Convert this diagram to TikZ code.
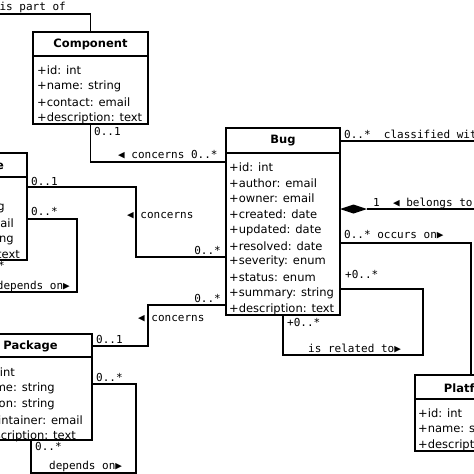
\documentclass[tikz,border=0pt]{standalone}
\usepackage{fontspec}
\setmainfont{DejaVu Sans}
\setmonofont{DejaVu Sans Mono}
\usetikzlibrary{calc}
\tikzset{
  ln/.style={line width=1.8pt, line join=miter},
  cls/.style={draw, line width=1.8pt, rectangle, inner sep=0pt, outer sep=0pt},
  attr/.style={font=\fontsize{11.5}{13}\selectfont, inner sep=0pt, anchor=west},
  attre/.style={font=\fontsize{11.5}{13}\selectfont, inner sep=0pt, anchor=east},
  ttl/.style={font=\bfseries\fontsize{11.5}{13}\selectfont, inner sep=0pt},
  lbl/.style={font=\ttfamily\fontsize{11}{13}\selectfont, inner sep=0pt, anchor=west},
  lble/.style={font=\ttfamily\fontsize{11}{13}\selectfont, inner sep=0pt, anchor=east}
}
\begin{document}
\begin{tikzpicture}[x=1pt,y=-1pt]
\useasboundingbox (0,0) rectangle (474,474);
\fill[white] (0,0) rectangle (474,474);
\clip (0,0) rectangle (474,474);

% ---------- classes ----------
\node[cls, minimum width=115pt, minimum height=92pt, anchor=north west] (comp) at (33,32) {};
\draw[ln] ([yshift=-24pt]comp.north west) -- ([yshift=-24pt]comp.north east);
\node[ttl] (compt) at (90.5,44) {Component};
\node[attr] (comp1) at (37,70) {+id: int};
\node[attr] (comp2) at (37,86) {+name: string};
\node[attr] (comp3) at (37,102) {+contact: email};
\node[attr] (comp4) at (37,118) {+description: text};

\node[cls, minimum width=114pt, minimum height=187pt, anchor=north west] (bug) at (226,128) {};
\draw[ln] ([yshift=-25pt]bug.north west) -- ([yshift=-25pt]bug.north east);
\node[ttl] (bugt) at (283,141) {Bug};
\node[attr] (bug1) at (229,167) {+id: int};
\node[attr] (bug2) at (229,182.8) {+author: email};
\node[attr] (bug3) at (229,198.6) {+owner: email};
\node[attr] (bug4) at (229,214.4) {+created: date};
\node[attr] (bug5) at (229,230.2) {+updated: date};
\node[attr] (bug6) at (229,246) {+resolved: date};
\node[attr] (bug7) at (229,261.8) {+severity: enum};
\node[attr] (bug8) at (229,277.6) {+status: enum};
\node[attr] (bug9) at (229,293.4) {+summary: string};
\node[attr] (bug10) at (229,309.2) {+description: text};

\node[cls, minimum width=115pt, minimum height=107pt, anchor=north east] (mod) at (27,153) {};
\draw[ln] ([yshift=-24pt]mod.north west) -- ([yshift=-24pt]mod.north east);
\node[ttl, anchor=east] (modt) at (4,165) {Module};
\node[attre] (mod2) at (5,207) {+name: string};
\node[attre] (mod3) at (14,223) {+contact: email};
\node[attre] (mod4) at (14,239) {+version: string};
\node[attre] (mod5) at (20,255) {+description: text};

\node[cls, minimum width=123pt, minimum height=106pt, anchor=north east] (pkg) at (92,334) {};
\draw[ln] ([yshift=-23pt]pkg.north west) -- ([yshift=-23pt]pkg.north east);
\node[ttl] (pkgt) at (30.5,346) {Package};
\node[attre] (pkg1) at (15,372) {+id: int};
\node[attre] (pkg2) at (55,388) {+name: string};
\node[attre] (pkg3) at (55,404) {+version: string};
\node[attre] (pkg4) at (83,420) {+maintainer: email};
\node[attre] (pkg5) at (76,436) {+description: text};

\node[cls, minimum width=112pt, minimum height=76pt, anchor=north west] (plat) at (415,375) {};
\draw[ln] ([yshift=-24pt]plat.north west) -- ([yshift=-24pt]plat.north east);
\node[ttl] (platt) at (472,388) {Platform};
\node[attr] (plat1) at (418,413) {+id: int};
\node[attr] (plat2) at (418,429) {+name: string};
\node[attr] (plat3) at (418,445) {+description: text};

% ---------- connector points ----------
\coordinate (ipo) at (-10,14);
\coordinate (cb) at (226,162);
\coordinate (ma) at (27,187);
\coordinate (mb) at (136,187);
\coordinate (mc) at (136,257);
\coordinate (md) at (226,257);
\coordinate (da) at (27,219);
\coordinate (db) at (77,219);
\coordinate (dc) at (77,292);
\coordinate (dd) at (-20,292);
\coordinate (pa) at (92,346);
\coordinate (pb) at (148,346);
\coordinate (pc) at (148,305);
\coordinate (pd) at (226,305);
\coordinate (qa) at (92,384);
\coordinate (qb) at (136,384);
\coordinate (qc) at (136,473);
\coordinate (qd) at (31,473);
\coordinate (qe) at (31,440);
\coordinate (ca) at (340,141);
\coordinate (cz) at (490,141);
\coordinate (ba) at (340,209);
\coordinate (bb) at (367,209);
\coordinate (bz) at (490,209);
\coordinate (oa) at (340,243);
\coordinate (ob) at (471,243);
\coordinate (oc) at (471,375);
\coordinate (ra) at (340,289);
\coordinate (rb) at (423,289);
\coordinate (rc) at (423,355);
\coordinate (rd) at (283,355);

% ---------- connectors ----------
\draw[ln] (comp.north) |- (ipo);
\draw[ln] (comp.south) |- (cb);
\draw[ln] (ma) -- (mb) -- (mc) -- (md);
\draw[ln] (da) -- (db) -- (dc) -- (dd);
\draw[ln] (pa) -- (pb) -- (pc) -- (pd);
\draw[ln] (qa) -- (qb) -- (qc) -- (qd) -- (qe);
\draw[ln] (ca) -- (cz);
\fill (ba) -- (353.5,204.5) -- (bb) -- (353.5,213.5) -- cycle;
\draw[ln] (bb) -- (bz);
\draw[ln] (oa) -- (ob) -- (oc);
\draw[ln] (ra) -- (rb) -- (rc) -- (rd) -- (bug.south);

% ---------- labels ----------
\node[lble] (l1) at (66,7) {is part of};
\node[lbl] (l2) at (94,131) {0..1};
\node[lbl] (l3) at (118,155) {◀ concerns 0..*};
\node[lbl] (l4) at (31,181) {0..1};
\node[lbl] (l5) at (31,211) {0..*};
\node[lbl] (l6) at (127,216) {◀ concerns};
\node[lble] (l7) at (221,250) {0..*};
\node[lble] (l8) at (5,265) {0..*};
\node[lble] (l9) at (70,286) {depends on▶};
\node[lble] (l10) at (221,298) {0..*};
\node[lbl] (l11) at (138,319) {◀ concerns};
\node[lbl] (l12) at (96,339) {0..1};
\node[lbl] (l13) at (96,377) {0..*};
\node[lbl] (l14) at (35,446) {0..*};
\node[lbl] (l15) at (49,466) {depends on▶};
\node[lbl] (l16) at (344,134) {0..*\ \ classified with};
\node[lbl] (l17) at (373,203) {1\ \ ◀ belongs to};
\node[lbl] (l18) at (344,235) {0..* occurs on▶};
\node[lbl] (l19) at (345,274) {+0..*};
\node[lbl] (l20) at (287,322) {+0..*};
\node[lbl] (l21) at (308,348) {is related to▶};
\end{tikzpicture}
\end{document}
